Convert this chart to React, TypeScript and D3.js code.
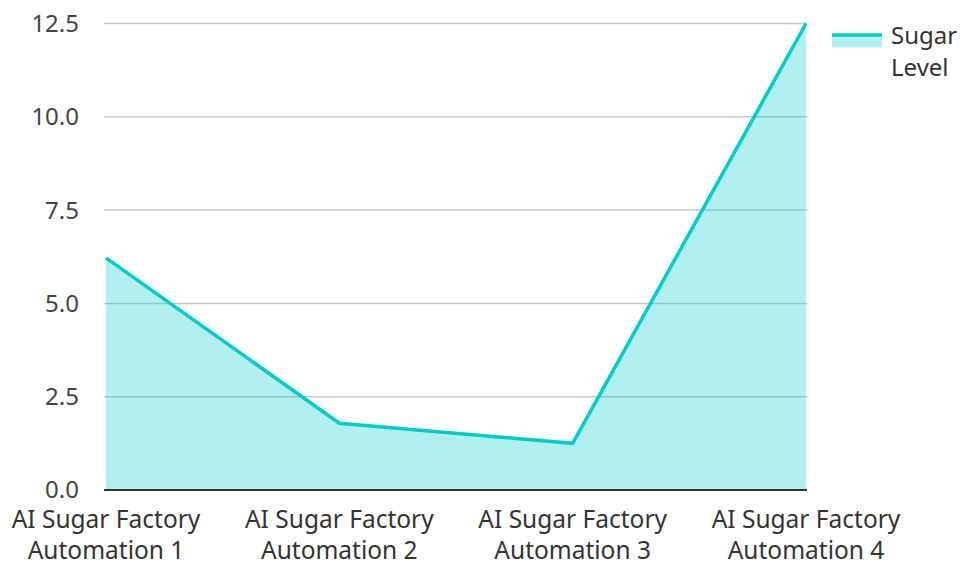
import React from "react";
import * as d3 from "d3";

const categories = [
  "AI Sugar Factory Automation 1",
  "AI Sugar Factory Automation 2",
  "AI Sugar Factory Automation 3",
  "AI Sugar Factory Automation 4",
];
const categoryLines = [
  ["AI Sugar Factory", "Automation 1"],
  ["AI Sugar Factory", "Automation 2"],
  ["AI Sugar Factory", "Automation 3"],
  ["AI Sugar Factory", "Automation 4"],
];
const sugarLevel = [6.22, 1.79, 1.25, 12.5];
const yTicks = [0, 2.5, 5, 7.5, 10, 12.5];
const seriesName = ["Sugar", "Level"];

const W = 962;
const H = 563;
const left = 106;
const right = 806;
const top = 23.5;
const bottom = 490;
const font = "'Noto Sans', sans-serif";
const lineColor = "#00cccc";

export default function App() {
  const x = d3.scalePoint<string>().domain(categories).range([left, right]);
  const y = d3.scaleLinear().domain([0, 12.5]).range([bottom, top]);
  const data = categories.map((c, i) => ({ c, v: sugarLevel[i] }));
  const area = d3
    .area<{ c: string; v: number }>()
    .x((d) => x(d.c)!)
    .y0(y(0))
    .y1((d) => y(d.v));
  const line = d3
    .line<{ c: string; v: number }>()
    .x((d) => x(d.c)!)
    .y((d) => y(d.v));

  return (
    <svg
      width={W}
      height={H}
      style={{ position: "absolute", left: 0, top: 0, display: "block" }}
      fontFamily={font}
    >
      <rect width={W} height={H} fill="#fff" />
      {yTicks.map((t) =>
        t === 0 ? null : (
          <line
            key={t}
            x1={left - 2}
            x2={right + 1}
            y1={y(t)}
            y2={y(t)}
            stroke="#c8c8c8"
            strokeWidth={1.5}
          />
        )
      )}
      <path d={area(data)!} fill="rgba(0,204,204,0.3)" />
      <path
        d={line(data)!}
        fill="none"
        stroke={lineColor}
        strokeWidth={3.5}
        strokeLinejoin="miter"
      />
      <line
        x1={left - 2}
        x2={right + 1}
        y1={y(0)}
        y2={y(0)}
        stroke="#333"
        strokeWidth={2}
      />
      {yTicks.map((t) => (
        <text
          key={t}
          x={79}
          y={y(t)}
          dy="0.35em"
          textAnchor="end"
          fontSize={24}
          fill="#444"
        >
          {t.toFixed(1)}
        </text>
      ))}
      {categories.map((c, i) => (
        <text
          key={c}
          x={x(c)!}
          y={528}
          textAnchor="middle"
          fontSize={24.5}
          fill="#333"
        >
          <tspan x={x(c)!}>{categoryLines[i][0]}</tspan>
          <tspan x={x(c)!} dy={31}>
            {categoryLines[i][1]}
          </tspan>
        </text>
      ))}
      <g>
        <rect x={832} y={35} width={50} height={12.5} fill="rgba(0,204,204,0.3)" />
        <line x1={832} x2={882} y1={35} y2={35} stroke={lineColor} strokeWidth={3.5} />
        <text x={891} y={44} fontSize={24} fill="#333">
          <tspan x={891}>{seriesName[0]}</tspan>
          <tspan x={891} dy={32}>
            {seriesName[1]}
          </tspan>
        </text>
      </g>
    </svg>
  );
}
